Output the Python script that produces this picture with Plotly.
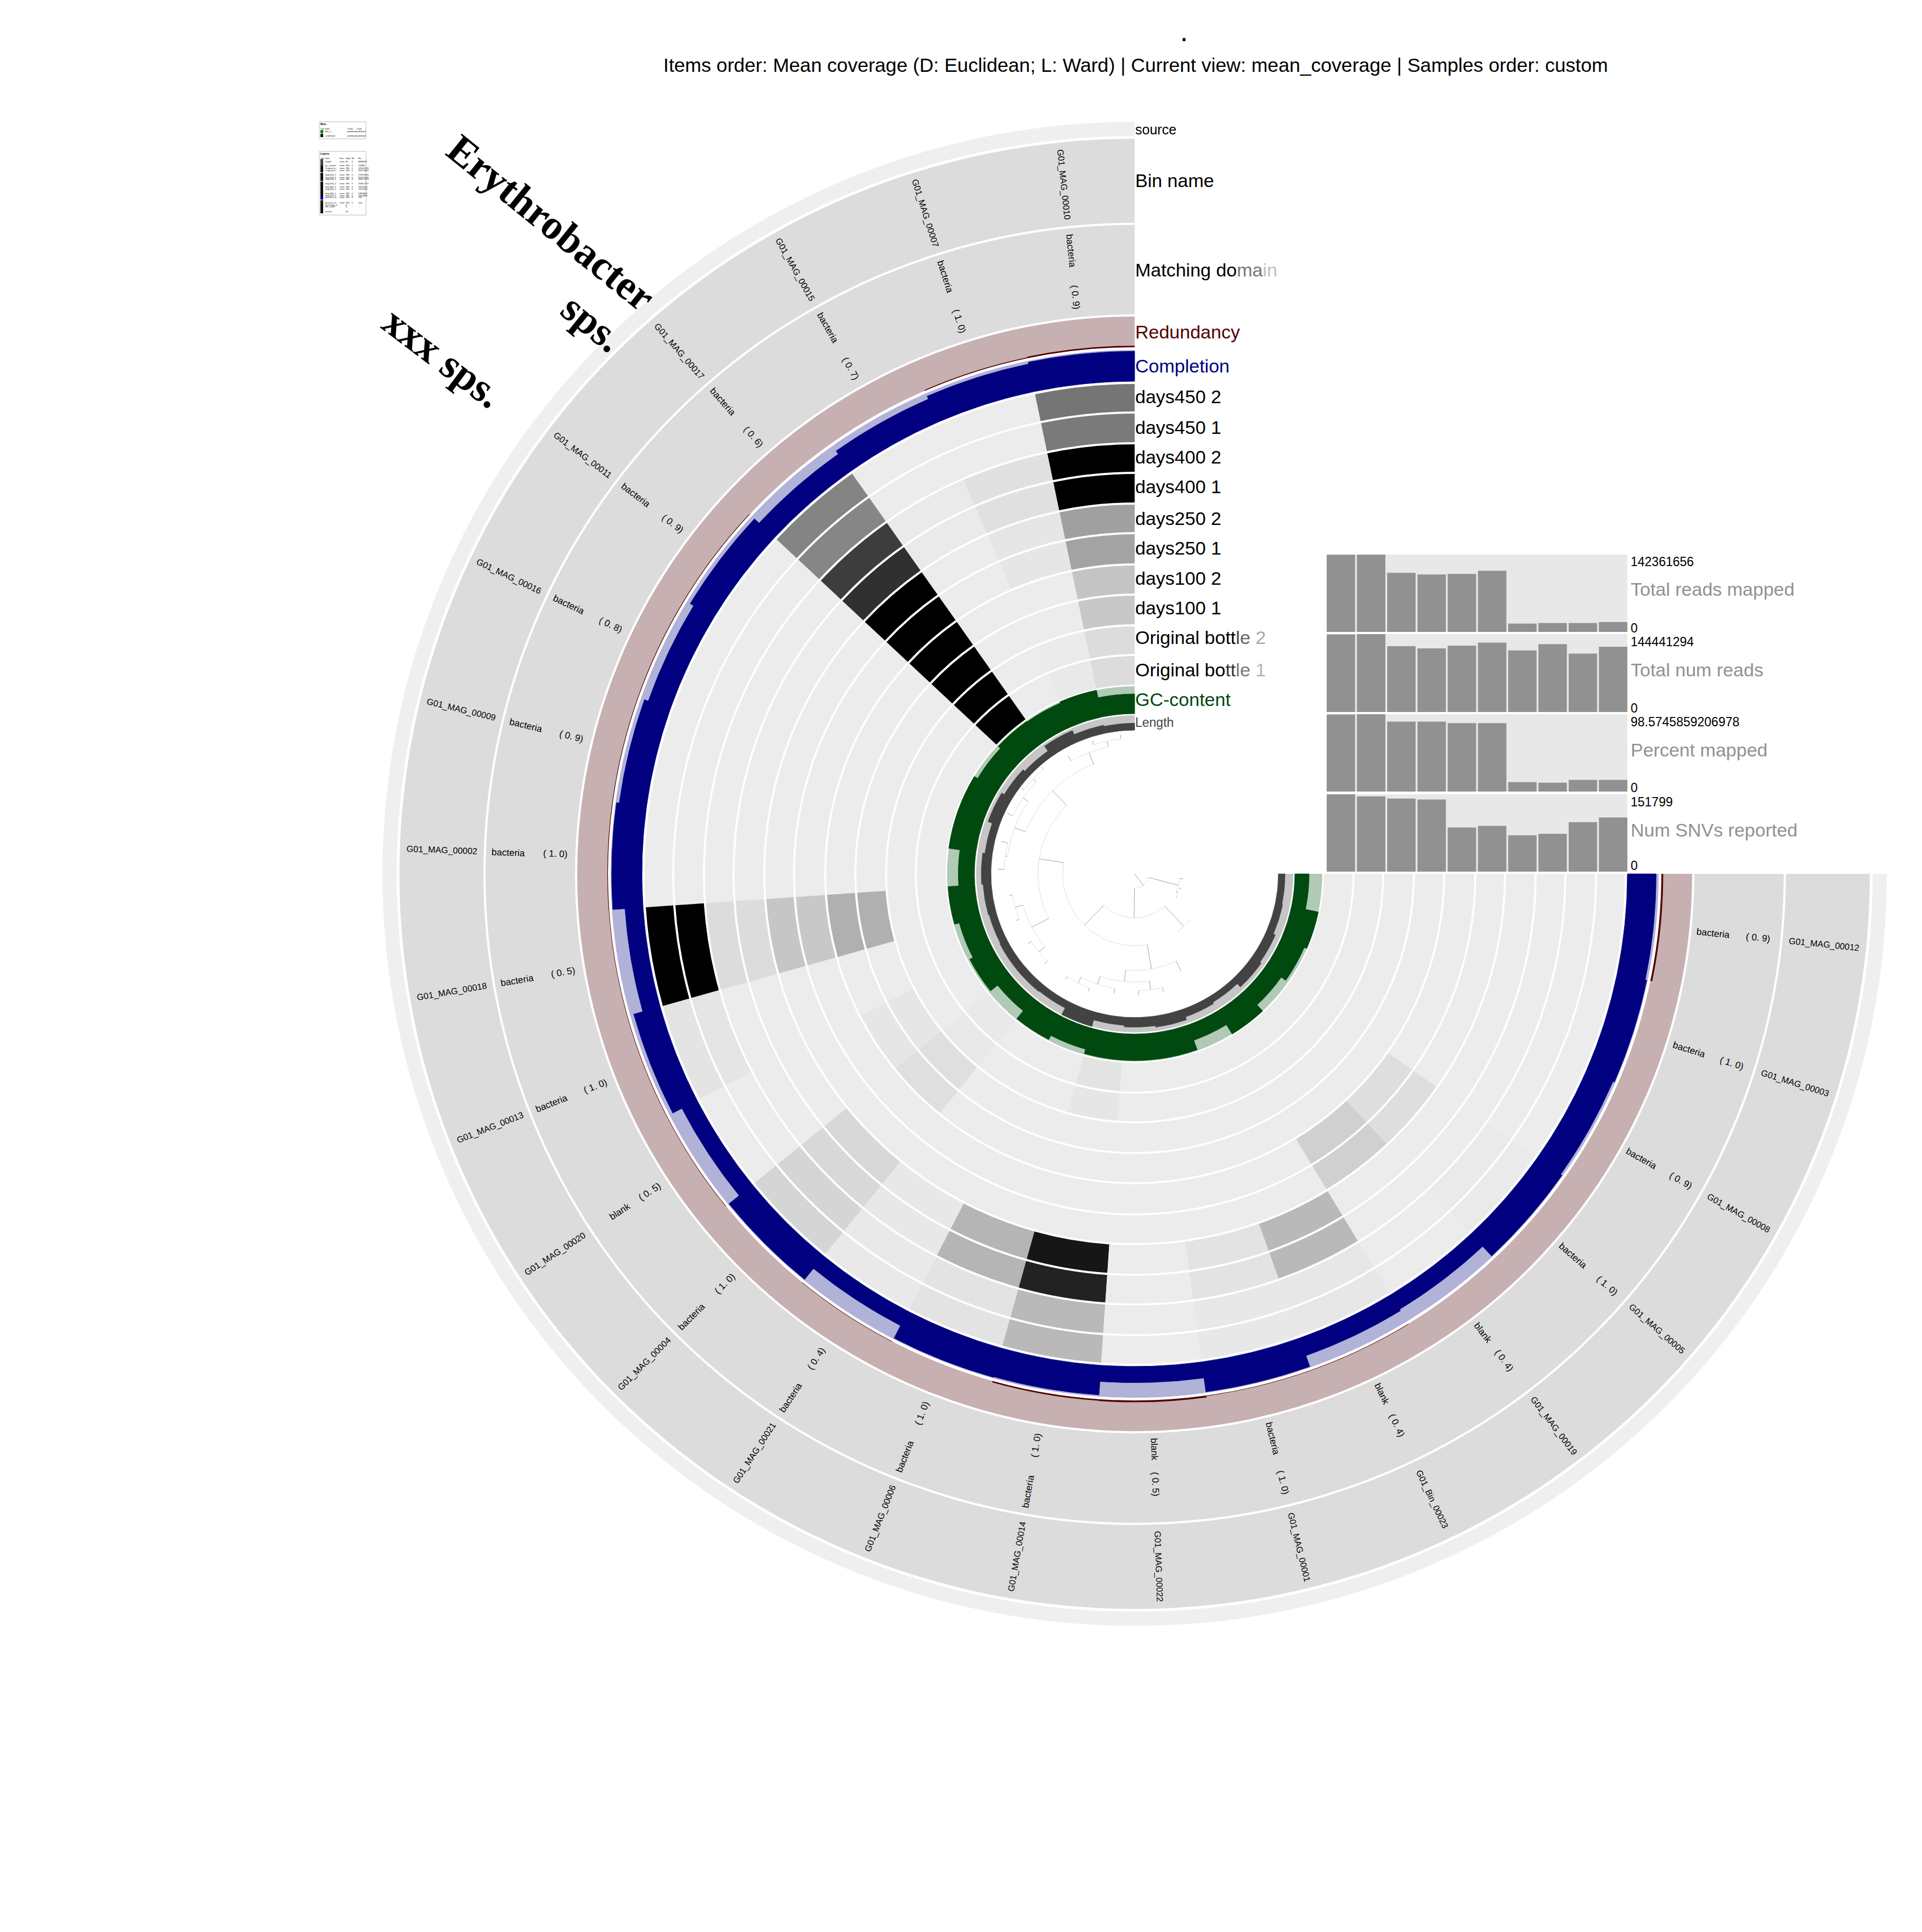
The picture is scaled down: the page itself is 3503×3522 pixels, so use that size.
import numpy as np
import plotly.graph_objects as go

# figure is placed by the page with an 8px body margin
W, H = 3487, 3506
OFF = 8
CX, CY = 2068, 1593
R_MAX = 1400

bin_names = ["G01_MAG_00010", "G01_MAG_00007", "G01_MAG_00015", "G01_MAG_00017", "G01_MAG_00011", "G01_MAG_00016",
             "G01_MAG_00009", "G01_MAG_00002", "G01_MAG_00018", "G01_MAG_00013", "G01_MAG_00020", "G01_MAG_00004",
             "G01_MAG_00021", "G01_MAG_00006", "G01_MAG_00014", "G01_MAG_00022", "G01_MAG_00001", "G01_Bin_00023",
             "G01_MAG_00019", "G01_MAG_00005", "G01_MAG_00008", "G01_MAG_00003", "G01_MAG_00012"]
domains = ["bacteria", "bacteria", "bacteria", "bacteria", "bacteria", "bacteria", "bacteria", "bacteria", "bacteria",
           "bacteria", "blank", "bacteria", "bacteria", "bacteria", "bacteria", "blank", "bacteria", "blank", "blank",
           "bacteria", "bacteria", "bacteria", "bacteria"]
domain_scores = ["0. 9", "1. 0", "0. 7", "0. 6", "0. 9", "0. 8", "0. 9", "1. 0", "0. 5", "1. 0", "0. 5", "1. 0", "0. 4",
                 "1. 0", "1. 0", "0. 5", "1. 0", "0. 4", "0. 4", "1. 0", "0. 9", "1. 0", "0. 9"]

# relative coverage per bin, 0 = background grey, 1 = black
orig_1 = [.068, .012, 0, 1, 0, 0, 0, 0, 0, 0, 0, .012, 0, 0, .038, 0, 0, 0, 0, 0, 0, 0, 0]
orig_2 = [.068, .004, 0, 1, 0, 0, 0, 0, 0, 0, 0, .012, 0, 0, .025, 0, 0, 0, 0, 0, 0, 0, 0]
days100_1 = [.153, .002, 0, 1, 0, 0, 0, 0, .254, 0, .025, .055, 0, 0, 0, 0, 0, 0, 0, 0, 0, 0, 0]
days100_2 = [.169, 0, 0, 1, 0, 0, 0, 0, .254, 0, .025, .055, 0, 0, 0, 0, 0, 0, 0, 0, 0, 0, 0]
days250_1 = [.31, .025, 0, 1, 0, 0, 0, 0, .153, 0, 0, 0, 0, 0, 0, 0, 0, 0, .119, .059, 0, 0, 0]
days250_2 = [.322, .025, 0, 1, 0, 0, 0, 0, .16, 0, 0, 0, 0, 0, 0, 0, 0, 0, .119, .059, 0, 0, 0]
days400_1 = [1, .051, .008, .797, 0, 0, 0, 0, .068, 0, 0, .085, .017, .233, .907, 0, .038, .216, 0, 0, 0, 0, 0]
days400_2 = [1, .051, .008, .742, 0, 0, 0, 0, .068, 0, 0, .085, .017, .233, .856, 0, .038, .216, 0, 0, 0, 0, 0]
days450_1 = [.483, .002, 0, .432, 0, 0, 0, 0, 1, .03, 0, .097, .012, .038, .216, 0, .017, .02, 0, .008, 0, 0, 0]
days450_2 = [.504, 0, 0, .44, 0, 0, 0, 0, 1, .034, 0, .097, .012, .038, .216, 0, .017, .02, 0, .008, 0, 0, 0]

completion = [96, 90, 80, 68, 88, 75, 88, 97, 58, 88, 55, 97, 52, 97, 95, 52, 97, 60, 55, 97, 92, 97, 92]
redundancy = [5, 3, 0, 0, 2, 2, 2, 2, 1.5, 1.5, 1.5, 0, 1.5, 0, 5, 6, 1.5, 1.5, 0, 0, 0, 0, 6]
gc_content = [72, 100, 95, 97, 86, 100, 100, 59, 98, 80, 93, 60, 97, 80, 97, 97, 97, 60, 100, 70, 90, 100, 52]
length_pct = [47, 55, 85, 45, 60, 80, 50, 65, 55, 50, 55, 55, 50, 100, 55, 65, 75, 55, 45, 75, 65, 50, 45]

# dendrogram: (arc radius, child, child) or (bin index, tip radius)
tree = (26,
        (80,
         (131,
          (176,
           (213,
            (236, (247, (0, 255), (1, 255)), (2, 247)),
            (234, (246, (253, (3, 259), (4, 259)), (5, 257)), (238, (6, 250), (7, 250)))),
           (211, (226, (8, 232), (9, 232)), (225, (10, 232), (11, 232)))),
          (176,
           (17, 197),
           (197,
            (212, (224, (12, 230), (13, 230)), (14, 221)),
            (213, (15, 221), (16, 221))))),
         (131, (18, 133), (19, 133))),
        (82, (86, (20, 89), (21, 89)), (22, 89)))

# bar panels, top right
reads_mapped = [142000000, 142361656, 108700000, 105800000, 106800000, 112500000, 15400000, 16400000, 16400000, 18300000]
num_reads = [144000000, 144441294, 122000000, 118100000, 123000000, 128800000, 114200000, 125900000, 108300000, 121000000]
pct_mapped = [98.3, 98.5745859206978, 89.2, 89.2, 87.2, 87.2, 12.1, 11.4, 14.8, 14.8]
num_snvs = [151799, 147700, 143500, 141500, 86700, 89800, 71300, 74400, 97100, 106400]
panel_titles = ["Total reads mapped", "Total num reads", "Percent mapped", "Num SNVs reported"]
panel_max = ["142361656", "144441294", "98.5745859206978", "151799"]

# legend tables
bins_rows = [("Bin_1", "undefined", "undefined"), ("undefined", "undefined", "undefined")]
layers_rows = [("length", "none", "80", "0", "8686376"), ("gc_content", "none", "180", "0", "0.6860"),
               ("Original_b...", "none", "180", "0", "4266.0310"), ("Original_b...", "none", "180", "0", "4547.8600"),
               ("days100_1", "none", "180", "0", "2769.6100"), ("days100_2", "none", "180", "0", "2624.6490"),
               ("days250_1", "none", "180", "0", "2441.1070"), ("days250_2", "none", "180", "0", "2646.1767"),
               ("days400_1", "none", "180", "0", "166.6000"), ("days400_2", "none", "180", "0", "176.4300"),
               ("days450_1", "none", "180", "0", "248.8600"), ("days450_2", "none", "180", "0", "246.8800"),
               ("percent_co...", "none", "200", "0", "100"), ("percent_re...", "none", "200", "0", "100"),
               ("matching_d...", "-", "0", "-", "-"), ("bin_name", "-", "0", "-", "-"), ("source", "-", "50", "-", "-")]
layers_rows_y = [294, 302, 306, 310, 319, 323, 326, 335, 340, 344, 352, 356, 360, 369, 373, 377, 385]
layers_swatch = ["#444444", "#0b5d1e", "#111111", "#111111", "#111111", "#111111", "#111111", "#111111", "#111111",
                 "#111111", "#111111", "#111111", "#000080", "#550000", "#111111", "#111111", "#111111"]

step = 270 / len(bin_names)
theta = [(i + .5) * step for i in range(len(bin_names))]
widths = [step] * len(bin_names)
gray_scale = [[0, "#ececec"], [1, "#000000"]]

fig = go.Figure()


def wedge(inner, outer, color):
    fig.add_trace(go.Barpolar(theta=[135], width=[270], base=[inner], r=[outer - inner],
                              marker=dict(color=color, line=dict(width=0)), hoverinfo="skip"))


def pct_layer(inner, outer, bg, color, values):
    wedge(inner, outer, bg)
    # thin outline in the bar colour hides the seams between neighbouring bars
    outline = [.8 if v > 10 else 0 for v in values]
    fig.add_trace(go.Barpolar(theta=theta, width=widths, base=[inner] * len(theta),
                              r=[v / 100 * (outer - inner) for v in values],
                              marker=dict(color=color, line=dict(width=outline, color=color))))


wedge(1345, 1371, "#efefef")
wedge(1187, 1340, "#dcdcdc")
wedge(1020, 1183, "#dcdcdc")
pct_layer(960, 1016, "#c7b0b1", "#550000", redundancy)
pct_layer(898, 955, "#b1b2d7", "#000080", completion)

heat_layers = [(345, 397, orig_1), (401, 451, orig_2), (455, 507, days100_1), (511, 562, days100_2),
               (566, 619, days250_1), (623, 673, days250_2), (677, 729, days400_1), (733, 783, days400_2),
               (787, 839, days450_1), (843, 893, days450_2)]
for inner, outer, values in heat_layers:
    wedge(inner, outer, "#ececec")
    fig.add_trace(go.Barpolar(theta=theta, width=widths, base=[inner] * len(theta), r=[outer - inner] * len(theta),
                              marker=dict(color=values, cmin=0, cmax=1, colorscale=gray_scale, line=dict(width=0))))

pct_layer(292, 342, "#b0cab6", "#00490f", gc_content)
pct_layer(262, 289, "#c6c6c6", "#434343", length_pct)

# tree
arc_t, arc_r, rad_t, rad_r = [], [], [], []


def walk(node, parent_r):
    if len(node) == 2:
        a = theta[node[0]]
        rad_t.extend([a, a, None])
        rad_r.extend([parent_r, node[1], None])
        return a
    angles = [walk(child, node[0]) for child in node[1:]]
    a = sum(angles) / len(angles)
    rad_t.extend([a, a, None])
    rad_r.extend([parent_r, node[0], None])
    sweep = np.linspace(min(angles), max(angles), 40)
    arc_t.extend(list(sweep) + [None])
    arc_r.extend([node[0]] * 40 + [None])
    return a


walk(tree, 0)
fig.add_trace(go.Scatterpolar(theta=arc_t, r=arc_r, mode="lines", line=dict(color="#c8c8c8", width=.6), connectgaps=False))
fig.add_trace(go.Scatterpolar(theta=rad_t, r=rad_r, mode="lines", line=dict(color="#606060", width=.6), connectgaps=False))

# bar panels
panels = [(1011, 1152, reads_mapped), (1156, 1298, num_reads), (1302, 1443, pct_mapped), (1448, 1589, num_snvs)]
layout_axes = {}
for n, (top, bottom, values) in enumerate(panels):
    suffix = "" if n == 0 else str(n + 1)
    fig.add_trace(go.Bar(x=list(range(10)), y=values, marker=dict(color="#919191", line=dict(width=0)),
                         xaxis="x" + suffix, yaxis="y" + suffix))
    layout_axes["xaxis" + suffix] = dict(domain=[(2418 - OFF) / W, (2966 - OFF) / W], range=[-.47, 9.47], visible=False)
    layout_axes["yaxis" + suffix] = dict(domain=[1 - (bottom - OFF) / H, 1 - (top - OFF) / H],
                                         range=[0, max(values)], visible=False)

notes = []


def note(x, y, text, size, color="#000000", anchor="left", angle=0, family="Liberation Sans"):
    notes.append(dict(x=(x - OFF) / W, y=1 - (y - OFF) / H, xref="paper", yref="paper", text=text, showarrow=False,
                      xanchor=anchor, yanchor="middle", textangle=angle, borderpad=0, borderwidth=0,
                      font=dict(size=size, color=color, family=family)))


def radial_note(a, r, text, size):
    t = np.radians(a)
    angle = 90 - a if a < 180 else 270 - a
    note(CX - r * np.sin(t), CY - r * np.cos(t), text, size, anchor="center", angle=angle)


for a, name, dom, score in zip(theta, bin_names, domains, domain_scores):
    radial_note(a, 1263, name, 16)
    label = "( " + score + ")"
    if a < 180:
        radial_note(a, 1142 if dom == "bacteria" else 1122, dom, 17)
        radial_note(a, 1057, label, 17)
    else:
        radial_note(a, 1060 if dom == "bacteria" else 1050, dom, 17)
        radial_note(a, 1142 if dom == "bacteria" else 1113, label, 17)

# layer names
note(2069, 236, "source", 25)
note(2069, 329, "Bin name", 34)
note(2069, 492, "Matching do<span style='color:#777777'>ma</span><span style='color:#c0c0c0'>in</span>", 34)
note(2069, 605, "Redundancy", 34, "#550000")
note(2069, 667, "Completion", 34, "#000080")
note(2069, 723, "days450 2", 34)
note(2069, 779, "days450 1", 34)
note(2069, 833, "days400 2", 34)
note(2069, 887, "days400 1", 34)
note(2069, 945, "days250 2", 34)
note(2069, 999, "days250 1", 34)
note(2069, 1054, "days100 2", 34)
note(2069, 1108, "days100 1", 34)
note(2069, 1162, "Original bott<span style='color:#444444'>l</span><span style='color:#666666'>e</span><span style='color:#aaaaaa'> 2</span>", 34)
note(2069, 1221, "Original bo<span style='color:#333333'>tt</span><span style='color:#777777'>le</span><span style='color:#b5b5b5'> 1</span>", 34)
note(2069, 1275, "GC-content", 34, "#00490f")
note(2069, 1317, "Length", 23, "#444444")

label_rows = [(1024, 1074, 1145), (1170, 1221, 1291), (1316, 1367, 1436), (1462, 1513, 1578)]
for (y_max, y_title, y_zero), title, top_value in zip(label_rows, panel_titles, panel_max):
    note(2972, y_max, top_value, 23)
    note(2972, y_title, title, 34, "#919191")
    note(2972, y_zero, "0", 23)

note(2153, 62, "<b>.</b>", 36)
note(2070, 119, "Items order: Mean coverage (D: Euclidean; L: Ward) | Current view: mean_coverage | Samples order: custom",
     35.6, anchor="center")

note(1004, 406, "<b>Erythrobacter</b>", 75, anchor="center", angle=39, family="Liberation Serif")
note(1080, 588, "<b>sps.</b>", 75, anchor="center", angle=39, family="Liberation Serif")
note(807, 652, "<b>xxx sps.</b>", 75, anchor="center", angle=37, family="Liberation Serif")

# small legend boxes
shapes = []


def box(x0, y0, x1, y1, fill, line):
    shapes.append(dict(type="rect", xref="paper", yref="paper", x0=(x0 - OFF) / W, x1=(x1 - OFF) / W,
                       y0=1 - (y1 - OFF) / H, y1=1 - (y0 - OFF) / H, fillcolor=fill,
                       line=dict(color=line, width=1 if line != "rgba(0,0,0,0)" else 0), layer="above"))


box(582, 222, 667, 253, "#ffffff", "#bbbbbb")
box(582, 276, 667, 392, "#ffffff", "#bbbbbb")
note(584, 226, "<b>Bins</b>", 5)
note(584, 280, "<b>Layers</b>", 5)
for x, text in [(584, "Color"), (593, "Name"), (633, "Contigs"), (650, "Length")]:
    note(x, 235, text, 3)
for y, row, swatch in zip([240, 247], bins_rows, ["#0b7a12", "#111111"]):
    box(584, y - 3, 589, y + 3, swatch, "rgba(0,0,0,0)")
    for x, text in zip([593, 632, 649], row):
        note(x, y, text, 4)
for x, text in [(584, "Color"), (593, "Name"), (619, "Norm."), (630, "Height"), (641, "Min."), (653, "Max")]:
    note(x, 289, text, 3)
for y, row, swatch in zip(layers_rows_y, layers_rows, layers_swatch):
    box(584, y - 4, 589, y + 4, swatch, "rgba(0,0,0,0)")
    for x, text in zip([593, 619, 630, 641, 653], row):
        note(x, y, text, 4)

fig.update_layout(
    width=W, height=H, autosize=False, margin=dict(l=0, r=0, t=0, b=0), showlegend=False,
    paper_bgcolor="#ffffff", plot_bgcolor="#e8e8e8", bargap=.06,
    polar=dict(domain=dict(x=[(CX - R_MAX - OFF) / W, (CX + R_MAX - OFF) / W],
                           y=[1 - (CY + R_MAX - OFF) / H, 1 - (CY - R_MAX - OFF) / H]),
               bgcolor="rgba(0,0,0,0)", barmode="overlay",
               radialaxis=dict(range=[0, R_MAX], visible=False),
               angularaxis=dict(rotation=90, direction="counterclockwise", visible=False)),
    annotations=notes, shapes=shapes, **layout_axes)

fig.write_html("out.html")
